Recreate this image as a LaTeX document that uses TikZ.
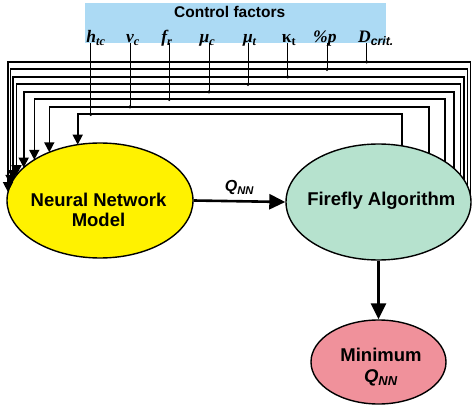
\documentclass[tikz,border=0pt]{standalone}
\usepackage{fontspec}
\setmainfont{Liberation Sans}
\newfontfamily\varfont{Liberation Serif}
\usetikzlibrary{shapes.geometric, arrows.meta}
\definecolor{nnyellow}{RGB}{255, 242, 0}
\definecolor{ffgreen}{RGB}{182, 226, 206}
\definecolor{minpink}{RGB}{240, 145, 155}
\definecolor{cfblue}{RGB}{172, 218, 244}
\tikzset{>=latex}
\tikzset{blob/.style={ellipse, draw, line width=1.4pt, inner sep=0pt},
blobtext/.style={align=center, font=\fontsize{18.5}{20.7}\selectfont\bfseries},
factor/.style={anchor=base west, inner sep=0pt, font=\fontsize{17.5}{17.5}\selectfont\varfont\bfseries\itshape},
feedback/.style={line width=1.6pt, -{Triangle[length=10pt, width=10pt]}},
mainarrow/.style={line width=2.6pt, -{Triangle[length=16pt, width=15pt]}}}
\begin{document}
\begin{tikzpicture}[x=1pt, y=-1pt]
\useasboundingbox (0,0) rectangle (474,409);
\fill[cfblue] (85,3) rectangle (386,43);
\node[inner sep=0pt, font=\fontsize{15.5}{15.5}\selectfont\bfseries] (cf) at (229.7,11.5) {Control factors};
% the three models
\node[blob, fill=nnyellow, minimum width=186, minimum height=115] (nn) at (100,200.5) {};
\node[blob, fill=ffgreen, minimum width=185, minimum height=116] (ff) at (378.5,202) {};
\node[blob, fill=minpink, minimum width=135, minimum height=84] (mq) at (378.5,362) {};
\node[blobtext] (nntext) at (98.5,210) {Neural Network\\Model};
\node[blobtext] (fftext) at (381.3,201) {Firefly Algorithm};
\node[blobtext] (mqtext) at (381,367) {Minimum\\\textit{Q}\textsubscript{\textit{NN}}};
\draw[mainarrow] (nn.east) -- node[above=2pt, font=\fontsize{16}{16}\selectfont\bfseries] (qnn) {\textit{Q}\textsubscript{\textit{NN}}} (ff.west);
\draw[mainarrow] (ff.south) -- (mq.north);
% feedback loops, one per control factor
\foreach \i/\lx/\rx/\tx/\ltx/\lab in {1/77.7/401.7/90.7/86.2/{h\textsubscript{tc}},
2/49.3/429/130/126/{v\textsubscript{c}},
3/34.3/445/169.3/161.2/{f\textsubscript{r}},
4/23.7/454/209/199.5/{μ\textsubscript{c}},
5/16.5/460.5/248/242.8/{μ\textsubscript{t}},
6/13/464/287.7/281.7/{\upshape κ\textsubscript{t}},
7/10.5/467.5/327/313/{\%p},
8/8/470.5/366.7/358/{D\textsubscript{\rmfamily crit.}}}{
\pgfmathsetmacro\ly{114.3-7.5*(\i-1)}
\pgfmathsetmacro\iny{200.5-57.5*sqrt(1-((\lx-100)/93)^2)}
\pgfmathsetmacro\outy{202-58*sqrt(1-((\rx-378.5)/92.5)^2)}
\node[factor] (fac\i) at (\ltx,42.5) {\lab};
\coordinate (foot\i) at (\tx,43);
\coordinate (tap\i) at (\tx,\ly);
\coordinate (in\i) at (\lx,\iny);
\coordinate (out\i) at (\rx,\outy);
\draw[feedback] (out\i) |- (tap\i) -| (in\i);
\draw[line width=0.9pt] (foot\i) -- (tap\i);
\fill (tap\i) circle (1.8);
}
\end{tikzpicture}
\end{document}
